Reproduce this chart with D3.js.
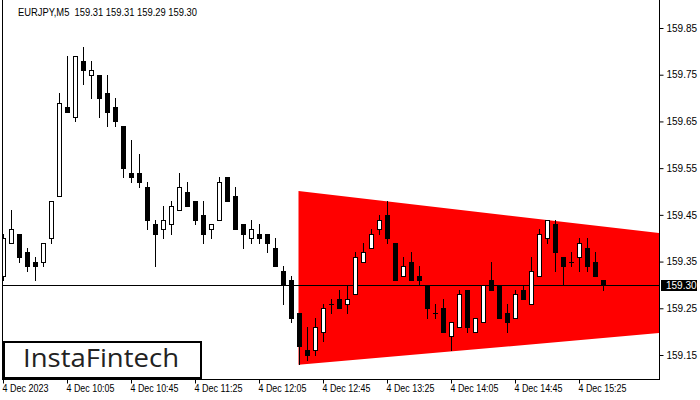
<!DOCTYPE html>
<html><head><meta charset="utf-8">
<script src="https://cdn.jsdelivr.net/npm/d3@7/dist/d3.min.js"></script>
<style>body{margin:0;background:#fff}svg{display:block}</style>
</head><body>
<script>
const title = "EURJPY,M5  159.31 159.31 159.29 159.30";
const openP  = [159.32,159.39,159.41,159.37,159.35,159.35,159.40,159.49,159.68,159.66,159.78,159.75,159.75,159.71,159.68,159.64,159.54,159.54,159.51,159.43,
                159.42,159.43,159.46,159.50,159.48,159.45,159.42,159.44,159.53,159.49,159.43,159.40,159.41,159.41,159.38,159.33,159.31,159.24,159.16,159.16,
                159.20,159.26,159.27,159.26,159.28,159.35,159.38,159.42,159.45,159.39,159.32,159.35,159.32,159.30,159.24,159.25,159.19,159.21,159.29,159.20,
                159.22,159.31,159.30,159.24,159.23,159.29,159.26,159.32,159.40,159.43,159.36,159.35,159.36,159.38,159.35,159.31];
const highP  = [159.41,159.46,159.41,159.38,159.36,159.39,159.48,159.71,159.79,159.79,159.81,159.78,159.75,159.75,159.70,159.64,159.61,159.58,159.52,159.44,
                159.47,159.48,159.54,159.52,159.48,159.48,159.43,159.53,159.53,159.51,159.43,159.44,159.43,159.41,159.40,159.34,159.32,159.24,159.21,159.23,
                159.26,159.27,159.29,159.30,159.37,159.39,159.42,159.45,159.48,159.39,159.36,159.37,159.34,159.30,159.26,159.27,159.22,159.29,159.29,159.23,
                159.30,159.35,159.30,159.26,159.29,159.30,159.36,159.42,159.44,159.44,159.36,159.37,159.40,159.40,159.37,159.31];
const lowP   = [159.31,159.39,159.35,159.33,159.31,159.34,159.39,159.49,159.67,159.65,159.73,159.70,159.66,159.64,159.64,159.53,159.52,159.51,159.42,159.34,
                159.40,159.41,159.46,159.47,159.43,159.39,159.40,159.44,159.48,159.42,159.38,159.39,159.39,159.37,159.34,159.26,159.22,159.13,159.14,159.15,
                159.18,159.24,159.25,159.24,159.28,159.35,159.38,159.41,159.39,159.31,159.32,159.31,159.30,159.23,159.23,159.20,159.16,159.21,159.20,159.20,
                159.22,159.29,159.23,159.20,159.23,159.27,159.26,159.32,159.39,159.33,159.30,159.34,159.33,159.33,159.32,159.29];
const closeP = [159.40,159.42,159.36,159.34,159.34,159.39,159.48,159.69,159.67,159.79,159.76,159.76,159.70,159.67,159.65,159.55,159.53,159.52,159.44,159.41,
                159.44,159.47,159.51,159.47,159.44,159.41,159.43,159.52,159.48,159.42,159.41,159.42,159.40,159.39,159.34,159.30,159.23,159.17,159.15,159.21,
                159.25,159.26,159.25,159.27,159.36,159.37,159.41,159.44,159.40,159.31,159.34,159.31,159.31,159.25,159.24,159.20,159.22,159.28,159.21,159.23,
                159.30,159.29,159.23,159.22,159.28,159.27,159.33,159.41,159.44,159.37,159.34,159.35,159.39,159.34,159.32,159.30];
const xTickIndex  = [0, 8, 16, 24, 32, 40, 48, 56, 64, 72];
const xTickLabels = ["4 Dec 2023","4 Dec 10:05","4 Dec 10:45","4 Dec 11:25","4 Dec 12:05","4 Dec 12:45","4 Dec 13:25","4 Dec 14:05","4 Dec 14:45","4 Dec 15:25"];
const yTickValues = [159.85, 159.75, 159.65, 159.55, 159.45, 159.35, 159.25, 159.15];
const lastPrice = 159.30;
const triangleIndex  = [37, 82];
const triangleTop    = [159.501, 159.411];
const triangleBottom = [159.129, 159.197];
const logoText = "InstaFintech";

const W = 700, H = 400;
const svg = d3.select("body").append("svg").attr("width", W).attr("height", H);
const x = d3.scaleLinear().domain([0, 82]).range([3.5, 659.5]);
const y = d3.scaleLinear().domain([159.15, 159.85]).range([355, 28]);

const plot = svg.append("g");
svg.append("defs").append("clipPath").attr("id","clip").append("rect")
  .attr("x", 3).attr("y", 0).attr("width", 656).attr("height", 379);

// triangle
plot.append("path").attr("clip-path","url(#clip)")
  .attr("d", d3.line()([
    [x(triangleIndex[0]) - 1, y(triangleTop[0])],
    [x(triangleIndex[1]), y(triangleTop[1])],
    [x(triangleIndex[1]), y(triangleBottom[1])],
    [x(triangleIndex[0]) - 1, y(triangleBottom[0])]
  ]) + "Z")
  .attr("fill", "#ff0000");

// last price line
const ly = Math.round(y(lastPrice)) + 0.5;
plot.append("line").attr("x1", 3).attr("x2", 659).attr("y1", ly).attr("y2", ly)
  .attr("stroke", "#000").attr("stroke-width", 1);

// candles
const data = openP.map((o, i) => ({i, o, h: highP[i], l: lowP[i], c: closeP[i]}));
const cg = plot.append("g").attr("clip-path","url(#clip)");
data.forEach(d => {
  const cx = Math.round(x(d.i) - 0.5) + 0.5;
  cg.append("line").attr("x1", cx).attr("x2", cx)
    .attr("y1", Math.round(y(d.h))).attr("y2", Math.round(y(d.l)) + 1)
    .attr("stroke", "#000").attr("stroke-width", 1);
  const top = Math.round(y(Math.max(d.o, d.c)));
  const bot = Math.round(y(Math.min(d.o, d.c)));
  if (d.c > d.o) {
    cg.append("rect").attr("x", cx - 2).attr("y", top + 0.5)
      .attr("width", 4).attr("height", Math.max(1, bot - top))
      .attr("fill", "#fff").attr("stroke", "#000").attr("stroke-width", 1);
  } else if (d.c < d.o) {
    cg.append("rect").attr("x", cx - 2.5).attr("y", top)
      .attr("width", 5).attr("height", Math.max(1, bot - top + 1))
      .attr("fill", "#000");
  } else {
    cg.append("line").attr("x1", cx - 2.5).attr("x2", cx + 2.5)
      .attr("y1", top + 0.5).attr("y2", top + 0.5).attr("stroke", "#000");
  }
});

// frame
svg.append("line").attr("x1", 2.5).attr("x2", 2.5).attr("y1", 0).attr("y2", 380).attr("stroke", "#000");
svg.append("line").attr("x1", 659.5).attr("x2", 659.5).attr("y1", 0).attr("y2", 380).attr("stroke", "#000");
svg.append("line").attr("x1", 2).attr("x2", 660).attr("y1", 379.5).attr("y2", 379.5).attr("stroke", "#000");

// y axis
const yAxis = d3.axisRight(y).tickValues(yTickValues).tickFormat(d3.format(".2f")).tickSize(4).tickPadding(3);
const ya = svg.append("g").attr("transform", "translate(659.5,0)").call(yAxis);
ya.select(".domain").remove();
ya.selectAll("text").attr("font-family", "Liberation Sans, Arial, sans-serif").attr("font-size", 10).attr("fill", "#000");
ya.selectAll("line").attr("stroke", "#000");

// last price tag
svg.append("rect").attr("x", 661).attr("y", Math.round(y(lastPrice)) - 5).attr("width", 36).attr("height", 11).attr("fill", "#000");
svg.append("text").attr("x", 666).attr("y", Math.round(y(lastPrice)) + 4)
  .attr("font-family", "Liberation Sans, Arial, sans-serif").attr("font-size", 10).attr("fill", "#fff")
  .text(d3.format(".2f")(lastPrice));

// x axis
const xa = svg.append("g").attr("transform", "translate(0,379.5)");
xTickIndex.forEach((t, k) => {
  const tx = Math.round(x(t) - 0.5) + 0.5;
  xa.append("line").attr("x1", tx).attr("x2", tx).attr("y1", 0).attr("y2", 4).attr("stroke", "#000");
  xa.append("text").attr("x", tx - 1).attr("y", 12)
    .attr("font-family", "Liberation Sans, Arial, sans-serif").attr("font-size", 10).attr("fill", "#000")
    .attr("textLength", 48).attr("lengthAdjust", "spacingAndGlyphs")
    .text(xTickLabels[k]);
});
xa.select("text").attr("textLength", 46);

// title
svg.append("text").attr("x", 18).attr("y", 16).style("white-space", "pre")
  .attr("font-family", "Liberation Sans, Arial, sans-serif").attr("font-size", 10.5).attr("fill", "#000")
  .attr("textLength", 179).attr("lengthAdjust", "spacingAndGlyphs")
  .text(title);

// logo
svg.append("rect").attr("x", 4).attr("y", 342).attr("width", 197).attr("height", 36)
  .attr("fill", "#fff").attr("stroke", "#000").attr("stroke-width", 2);
svg.append("text").attr("x", 101).attr("y", 367).attr("text-anchor", "middle")
  .attr("font-family", "Open Sans, sans-serif").attr("font-size", 25).attr("font-weight", 500)
  .attr("fill", "#222").attr("textLength", 156).attr("lengthAdjust", "spacingAndGlyphs")
  .text(logoText);
</script>
</body></html>
